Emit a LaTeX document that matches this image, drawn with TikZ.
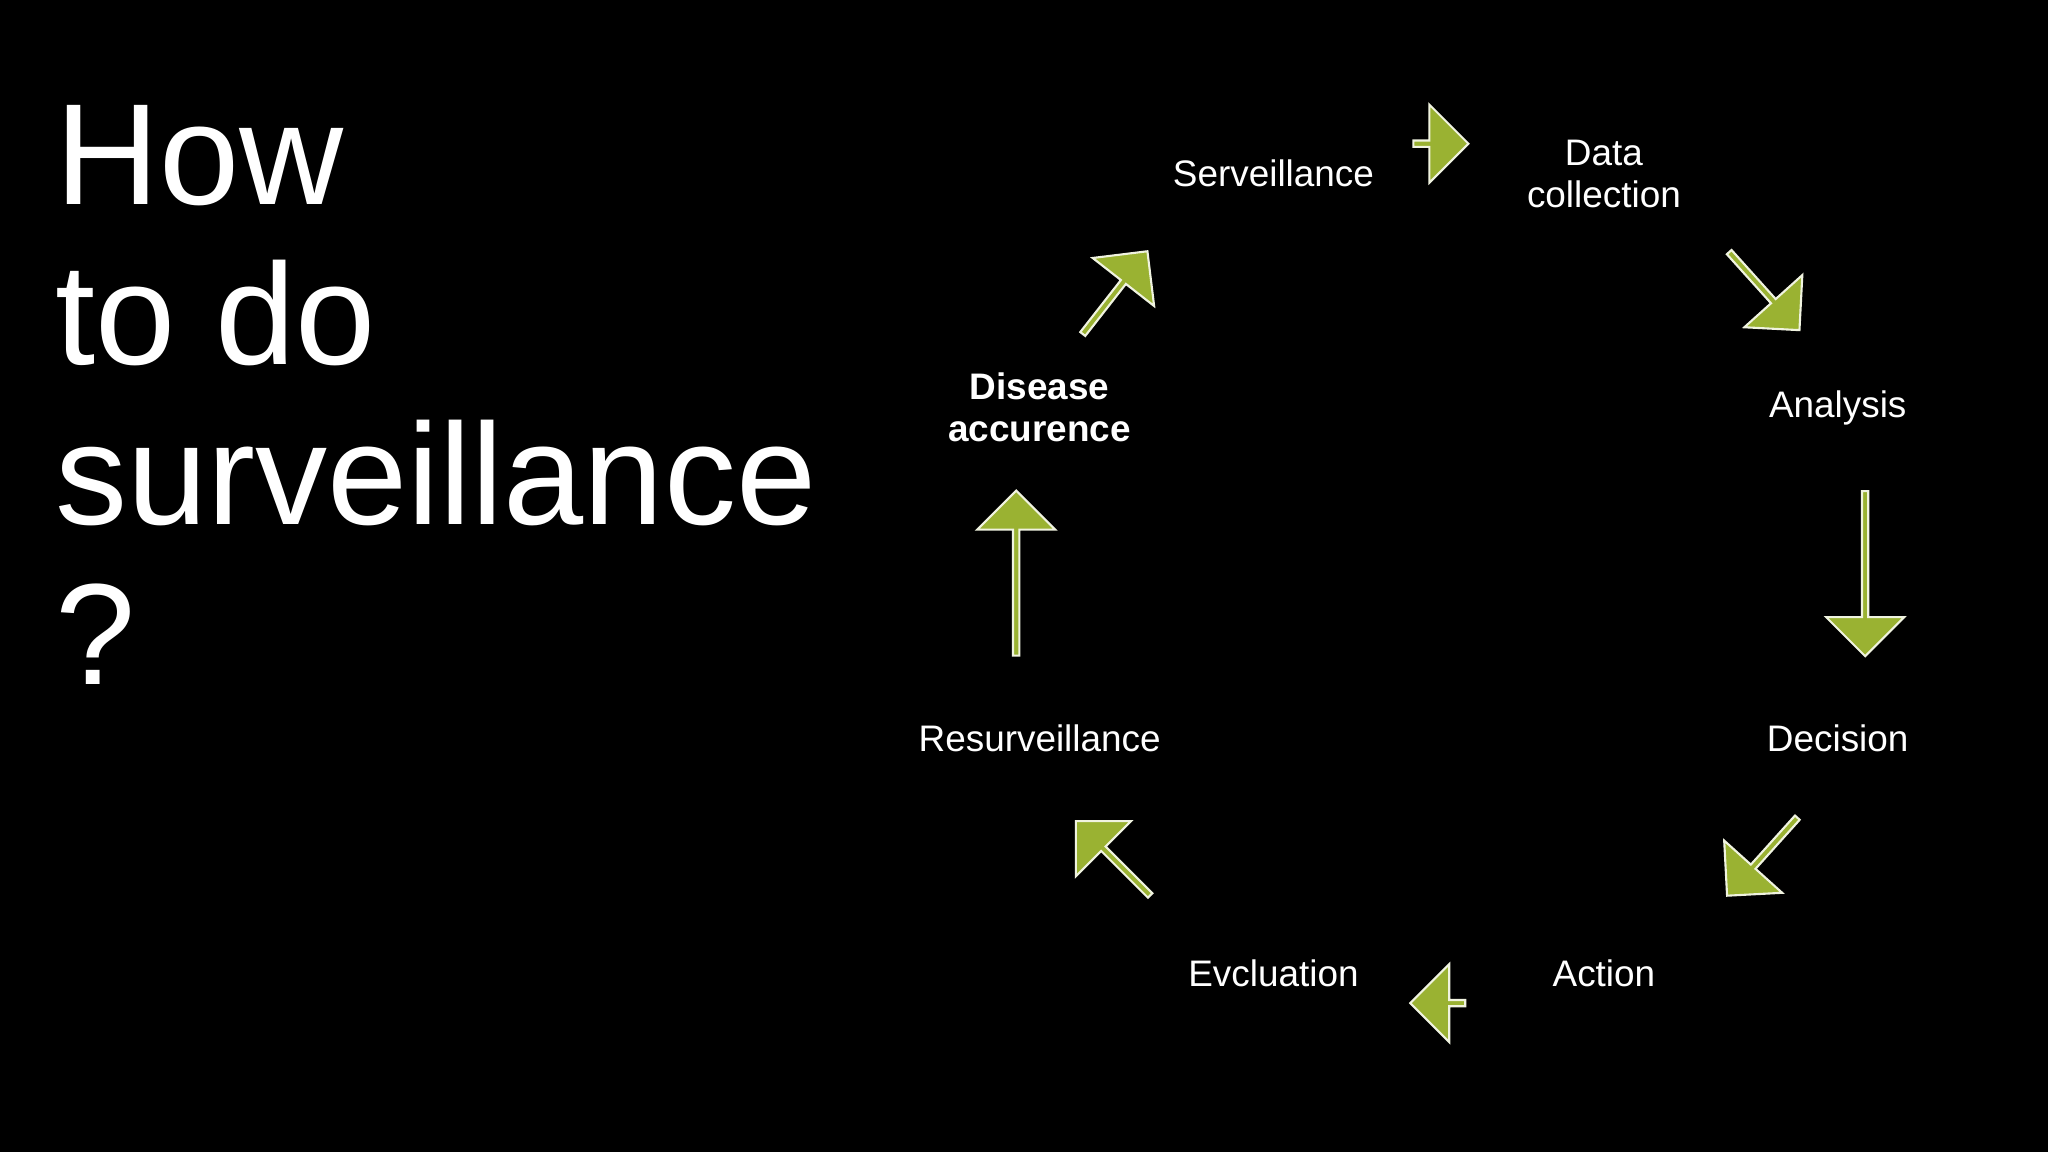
\documentclass[tikz,border=0pt]{standalone}
\usepackage{fontspec}
\setmainfont{Liberation Sans}
\usetikzlibrary{shapes.arrows}
\definecolor{agreen}{HTML}{9AB232}
\begin{document}
\begin{tikzpicture}[x=0.01306cm,y=-0.01306cm,
  lbl/.style={text=white,font=\fontsize{10.5pt}{12pt}\selectfont,align=center},
  blk/.style={single arrow,fill=agreen,draw=white!85!agreen,line width=0.6pt,inner sep=0pt,
     single arrow head extend=0.12cm,minimum width=0.78cm,minimum height=#1,anchor=center}]
\fill[black] (0,0) rectangle (1568,882);
\useasboundingbox (0,0) rectangle (1568,882);
\node[anchor=north west,text=white,align=left,font=\fontsize{41pt}{45.5pt}\selectfont,inner sep=0pt] (title) at (42,80) {How\\to do\\surveillance\\?};
\node[lbl] (s) at (975,133) {Serveillance};
\node[lbl] (d) at (1228,133) {Data\\collection};
\node[lbl] (an) at (1407,312) {Analysis};
\node[lbl] (de) at (1407,565) {Decision};
\node[lbl] (ac) at (1228,745) {Action};
\node[lbl] (ev) at (975,745) {Evcluation};
\node[lbl] (re) at (796,565) {Resurveillance};
\node[lbl,font=\bfseries\fontsize{10.5pt}{12pt}\selectfont] (di) at (796,312) {Disease\\accurence};
\node[blk=0.55cm,rotate=0] (a1) at (1102,110) {};
\node[blk=1.05cm,rotate=-48] (a2) at (1350,222) {};
\node[blk=1.65cm,rotate=-90] (a3) at (1428,438) {};
\node[blk=1.05cm,rotate=-132] (a4) at (1350,655) {};
\node[blk=0.55cm,rotate=180] (a5) at (1102,768) {};
\node[blk=1.05cm,rotate=135] (a6) at (853,658) {};
\node[blk=1.65cm,rotate=90] (a7) at (778,440) {};
\node[blk=1.05cm,rotate=52] (a8) at (853,225) {};
\end{tikzpicture}
\end{document}
